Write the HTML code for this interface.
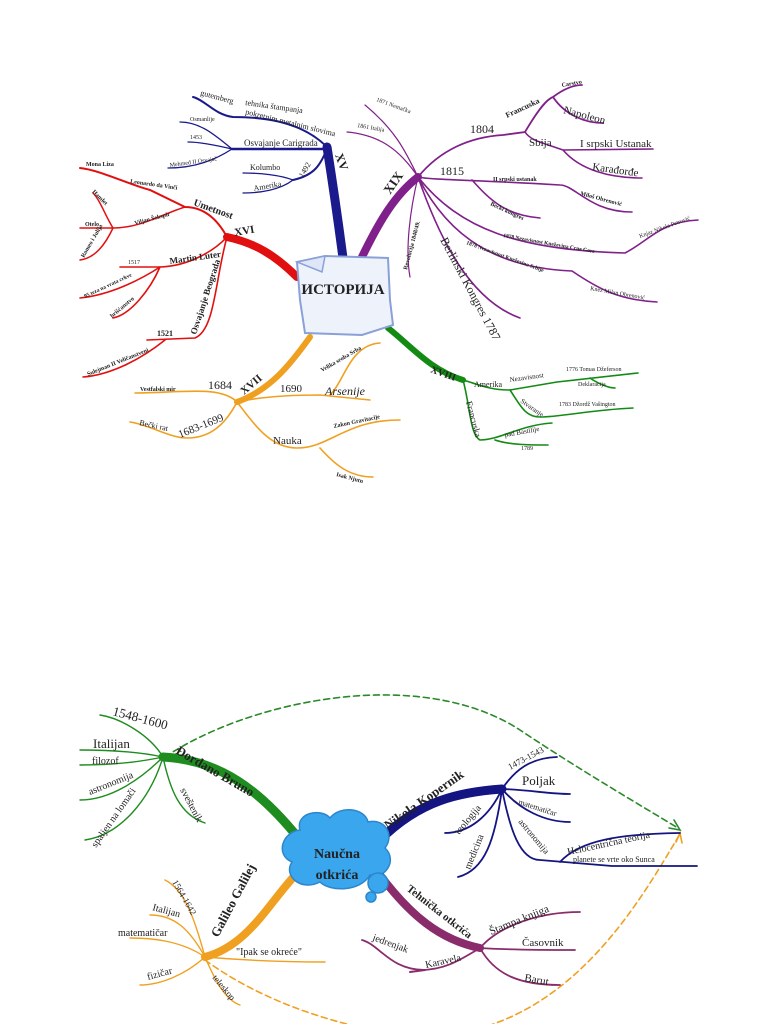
<!DOCTYPE html>
<html><head><meta charset="utf-8"><style>
html,body{margin:0;padding:0;background:#fff;}
svg{display:block;font-family:"Liberation Serif",serif;}
text{fill:#222;}
.b{font-weight:bold;}
</style></head><body>
<svg width="768" height="1024" viewBox="0 0 768 1024" xmlns="http://www.w3.org/2000/svg">
<g fill="none" stroke-linecap="round">
<!-- BLUE XV -->
<g stroke="#1a1a8c">
<path d="M343 258 C338 220 333 185 327 147" stroke-width="9"/>
<path d="M327 147 C300 120 260 117 233 117 C215 115 205 100 193 97" stroke-width="2"/>
<path d="M327 149 L232 149" stroke-width="2.5"/>
<path d="M232 149 C215 135 200 122 180 122 M232 149 C215 145 200 142 188 142 M232 149 C215 160 195 168 168 168" stroke-width="1.3"/>
<path d="M327 149 C320 165 315 175 293 180" stroke-width="2"/>
<path d="M293 180 C280 175 260 173 243 173 M293 180 C280 190 260 193 243 193" stroke-width="1.3"/>
</g>
<!-- RED XVI -->
<g stroke="#e01010">
<path d="M297 277 C275 255 255 243 227 237" stroke-width="8"/>
<path d="M227 237 C215 215 200 207 185 207 L150 190 C130 185 100 170 80 168" stroke-width="2"/>
<path d="M185 207 C160 215 140 228 113 228 L80 228 M113 228 C105 215 100 200 93 193 M113 228 C105 245 95 258 80 260" stroke-width="1.5"/>
<path d="M227 237 C215 250 190 266 160 267 L120 267 M160 267 C140 280 110 295 80 298 M160 267 C150 290 130 315 113 318" stroke-width="1.6"/>
<path d="M227 237 C215 280 215 330 195 338 L147 340 M165 340 C140 360 110 375 83 377" stroke-width="1.6"/>
</g>
<!-- ORANGE XVII -->
<g stroke="#f0a020">
<path d="M310 337 C290 365 270 390 237 402" stroke-width="6"/>
<path d="M237 402 C220 385 180 393 135 393" stroke-width="1.6"/>
<path d="M237 402 C260 397 290 395 320 395 L370 400 M330 395 C345 380 350 345 380 343" stroke-width="1.6"/>
<path d="M237 402 C225 425 210 438 187 438 C170 438 150 425 130 422" stroke-width="1.6"/>
<path d="M237 402 C255 425 270 448 297 448 C330 448 345 420 400 420 M320 448 C335 465 350 477 373 477" stroke-width="1.6"/>
</g>
<!-- GREEN XVIII -->
<g stroke="#138a13">
<path d="M388 328 C410 345 430 370 463 380" stroke-width="6"/>
<path d="M463 380 C480 385 490 390 510 390 L557 382 L638 373 M590 378 C600 385 610 388 615 388" stroke-width="1.6"/>
<path d="M510 390 C520 405 525 417 540 417 C560 417 590 410 633 408" stroke-width="1.6"/>
<path d="M463 380 C470 405 470 435 480 440 C500 440 520 425 552 423 M495 440 C510 445 530 445 548 445" stroke-width="1.6"/>
</g>
<!-- PURPLE XIX -->
<g stroke="#80208a">
<path d="M362 257 C380 220 395 195 418 177" stroke-width="8"/>
<path d="M418 177 C405 150 395 130 365 105 M418 177 C400 150 380 135 347 132" stroke-width="1.2"/>
<path d="M418 177 C440 150 470 137 503 135 L525 132 C535 115 545 100 553 97 M553 97 C565 88 575 85 582 85 M553 97 C565 115 585 123 603 123" stroke-width="1.8"/>
<path d="M525 132 C530 140 540 142 563 150 L653 149 M563 150 C580 170 610 178 642 178" stroke-width="1.6"/>
<path d="M418 177 C430 180 480 180 560 185 C575 185 590 212 632 212 M472 180 C490 200 505 215 540 218" stroke-width="1.6"/>
<path d="M418 177 C460 230 520 250 625 253 C650 240 660 222 698 220" stroke-width="1.6"/>
<path d="M418 177 C450 240 500 268 572 271 C600 290 620 300 657 302" stroke-width="1.6"/>
<path d="M418 177 C440 240 470 300 520 318" stroke-width="1.6"/>
<path d="M418 177 C410 210 405 250 410 277" stroke-width="1.2"/>
</g>
</g>
<!-- center box -->
<path d="M297 262 L325 256 L388 258 L390 300 L393 325 L362 335 L305 333 L300 300 Z" fill="#eef2fb" stroke="#8aa0d8" stroke-width="2"/>
<path d="M297 262 L325 256 L322 272 Z" fill="#dfe6f7" stroke="#8aa0d8" stroke-width="1.5"/>
<text x="343" y="294" text-anchor="middle" class="b" font-size="15">ИСТОРИЈА</text>

<g font-size="8">
<text x="200" y="95" transform="rotate(15 200 95)">gutemberg</text>
<text x="245" y="105" transform="rotate(8 245 105)">tehnika štampanja</text>
<text x="245" y="114" transform="rotate(14 245 114)">pokretnim metalnim slovima</text>
<text x="190" y="121" font-size="6">Osmanlije</text>
<text x="190" y="139" font-size="6">1453</text>
<text x="170" y="167" font-size="6" transform="rotate(-8 170 167)">Mehmed II Osvajač</text>
<text x="244" y="146" font-size="9">Osvajanje Carigrada</text>
<text x="250" y="170">Kolumbo</text>
<text x="254" y="191" transform="rotate(-10 254 191)">Amerika</text>
<text x="303" y="178" transform="rotate(-60 303 178)">1492</text>
<text x="335" y="155" class="b" font-size="12" transform="rotate(70 335 155)">XV</text>

<text x="86" y="166" font-size="6" class="b">Mona Liza</text>
<text x="130" y="183" font-size="6" class="b" transform="rotate(8 130 183)">Leonardo da Vinči</text>
<text x="92" y="192" font-size="6" class="b" transform="rotate(45 92 192)">Hamlet</text>
<text x="85" y="226" font-size="6" class="b">Otelo</text>
<text x="84" y="258" font-size="6" class="b" transform="rotate(-60 84 258)">Romeo i Julija</text>
<text x="135" y="225" font-size="6" class="b" transform="rotate(-15 135 225)">Viljan Šekspir</text>
<text x="193" y="205" font-size="10" class="b" transform="rotate(20 193 205)">Umetnost</text>
<text x="235" y="236" font-size="11" class="b" transform="rotate(-10 235 236)">XVI</text>
<text x="170" y="264" font-size="9" class="b" transform="rotate(-8 170 264)">Martin Luter</text>
<text x="128" y="264" font-size="6">1517</text>
<text x="85" y="298" font-size="5.5" class="b" transform="rotate(-25 85 298)">95 teza na vrata crkve</text>
<text x="112" y="318" font-size="6" class="b" transform="rotate(-40 112 318)">hrišćanstvo</text>
<text x="196" y="335" font-size="9" class="b" transform="rotate(-72 196 335)">Osvajanje Beograda</text>
<text x="157" y="336" font-size="8" class="b">1521</text>
<text x="88" y="376" font-size="6" class="b" transform="rotate(-22 88 376)">Sulejman II Veličanstveni</text>

<text x="140" y="391" font-size="6" class="b">Vestfalski mir</text>
<text x="208" y="389" font-size="12">1684</text>
<text x="244" y="395" font-size="11" class="b" transform="rotate(-40 244 395)">XVII</text>
<text x="280" y="392" font-size="11">1690</text>
<text x="322" y="372" font-size="6" class="b" transform="rotate(-30 322 372)">Velika seoba Srba</text>
<text x="325" y="395" font-size="12" font-style="italic">Arsenije</text>
<text x="139" y="425" font-size="8" transform="rotate(12 139 425)">Bečki rat</text>
<text x="180" y="438" font-size="11" transform="rotate(-22 180 438)">1683-1699</text>
<text x="273" y="444" font-size="11">Nauka</text>
<text x="334" y="428" font-size="6" class="b" transform="rotate(-12 334 428)">Zakon Gravitacije</text>
<text x="336" y="476" font-size="6" class="b" transform="rotate(15 336 476)">Isak Njutn</text>

<text x="430" y="372" font-size="10" class="b" transform="rotate(20 430 372)">XVIII</text>
<text x="474" y="387" font-size="8">Amerika</text>
<text x="510" y="382" font-size="7" transform="rotate(-8 510 382)">Nezavisnost</text>
<text x="566" y="371" font-size="6">1776 Tomas Džeferson</text>
<text x="578" y="386" font-size="6">Deklaracija</text>
<text x="520" y="402" font-size="7" transform="rotate(35 520 402)">Stvaranje</text>
<text x="559" y="406" font-size="6">1783 Džordž Vašington</text>
<text x="466" y="402" font-size="9" transform="rotate(75 466 402)">Francuska</text>
<text x="505" y="437" font-size="7" transform="rotate(-10 505 437)">pad Bastilije</text>
<text x="521" y="450" font-size="6">1789</text>

<text x="376" y="101" font-size="6" transform="rotate(20 376 101)">1871 Nemačka</text>
<text x="357" y="127" font-size="6" transform="rotate(10 357 127)">1861 Italija</text>
<text x="390" y="195" font-size="13" class="b" transform="rotate(-55 390 195)">XIX</text>
<text x="407" y="270" font-size="6" class="b" transform="rotate(-75 407 270)">Revolucija 1848/49.</text>
<text x="470" y="133" font-size="12">1804</text>
<text x="507" y="118" font-size="8" class="b" transform="rotate(-25 507 118)">Francuska</text>
<text x="562" y="87" font-size="6" class="b" transform="rotate(-10 562 87)">Carstvo</text>
<text x="563" y="113" font-size="11" transform="rotate(15 563 113)">Napoleon</text>
<text x="529" y="146" font-size="11">Sbija</text>
<text x="580" y="147" font-size="11">I srpski Ustanak</text>
<text x="592" y="170" font-size="11" transform="rotate(8 592 170)">Karađorđe</text>
<text x="440" y="175" font-size="12">1815</text>
<text x="493" y="181" font-size="6" class="b">II srpski ustanak</text>
<text x="580" y="195" font-size="6" class="b" transform="rotate(15 580 195)">Miloš Obrenović</text>
<text x="490" y="205" font-size="6" class="b" transform="rotate(25 490 205)">Bečki kongres</text>
<text x="503" y="237" font-size="5.5" class="b" transform="rotate(10 503 237)">1878 Nezavisnost Kneževina Crne Gore</text>
<text x="466" y="244" font-size="5.5" class="b" transform="rotate(20 466 244)">1878 Nezavisnost Kneževina Srbije</text>
<text x="640" y="238" font-size="6" transform="rotate(-20 640 238)">Knjaz Nikola Petrović</text>
<text x="590" y="290" font-size="6" transform="rotate(10 590 290)">Knez Milan Obrenović</text>
<text x="440" y="240" font-size="12" transform="rotate(62 440 240)">Berlinski Kongres 1787</text>
</g>

<!-- BOTTOM -->
<g fill="none" stroke-linecap="round">
<path d="M165 757 C250 700 420 665 520 730 C580 770 640 805 678 828" stroke="#2a8a2a" stroke-width="1.6" stroke-dasharray="6 4"/>
<path d="M669 828 L680 830 L674 820" stroke="#2a8a2a" stroke-width="1.6"/>
<path d="M205 960 C260 1000 330 1024 400 1035 C560 1050 640 900 680 834" stroke="#f0a020" stroke-width="1.6" stroke-dasharray="6 4"/>
<path d="M676 842 L680 833 L682 843" stroke="#f0a020" stroke-width="1.6"/>
<g stroke="#1e8c1e">
<path d="M163 757 C220 760 260 790 300 840" stroke-width="9"/>
<path d="M163 757 C150 735 120 718 100 715 M163 757 C140 752 110 750 80 750 M163 757 C140 762 110 765 80 765 M163 757 C140 780 110 800 80 800 M163 757 C150 800 120 835 85 840 M163 757 C170 790 180 815 205 823" stroke-width="1.4"/>
</g>
<g stroke="#141482">
<path d="M380 840 C420 800 460 792 502 789" stroke-width="9"/>
<path d="M502 789 C515 770 530 758 557 757 M502 789 C530 790 550 794 570 794 M502 789 C520 810 545 822 570 822 M502 789 C510 830 520 860 540 860 L612 866 L697 866 M560 862 C580 840 620 834 680 833 M502 789 C490 815 470 833 445 833 M502 789 C495 840 485 870 458 877" stroke-width="1.8"/>
</g>
<g stroke="#f0a020">
<path d="M300 870 C270 900 250 945 205 957" stroke-width="8"/>
<path d="M205 957 C195 920 185 890 165 880 M205 957 C190 930 175 915 150 915 M205 957 C180 940 150 938 130 938 M205 957 C185 975 160 985 140 985 M205 957 C215 980 225 1000 240 1005 M205 957 C240 960 280 962 325 962" stroke-width="1.4"/>
</g>
<g stroke="#8a2c6c">
<path d="M380 875 C410 915 440 940 480 948" stroke-width="8"/>
<path d="M480 948 C460 960 445 970 420 970 L425 970 C390 970 380 945 362 940 M425 970 L420 970 M480 948 C500 925 540 912 580 912 M480 948 C510 950 545 950 575 950 M480 948 C495 975 520 985 560 985" stroke-width="1.8"/>
<path d="M425 970 L410 972" stroke-width="2"/>
</g>
</g>
<!-- cloud -->
<g fill="#3aa6ee" stroke="#2d86cc" stroke-width="1.5">
<path d="M300 830 C295 812 322 808 330 818 C340 805 365 808 368 822 C385 818 395 835 385 848 C398 860 385 880 370 875 C360 892 330 892 320 882 C300 892 283 875 292 862 C275 855 282 832 300 830 Z"/>
<circle cx="378" cy="883" r="10"/>
<circle cx="371" cy="897" r="5"/>
</g>
<text x="337" y="858" text-anchor="middle" class="b" font-size="14">Naučna</text>
<text x="337" y="879" text-anchor="middle" class="b" font-size="14">otkrića</text>

<g>
<text x="112" y="715" font-size="13" transform="rotate(15 112 715)">1548-1600</text>
<text x="93" y="748" font-size="13">Italijan</text>
<text x="92" y="764" font-size="10">filozof</text>
<text x="90" y="795" font-size="10" transform="rotate(-22 90 795)">astronomija</text>
<text x="96" y="848" font-size="10" transform="rotate(-55 96 848)">spaljen na lomači</text>
<text x="180" y="790" font-size="10" transform="rotate(62 180 790)">sveštenik</text>
<text x="175" y="753" font-size="13" class="b" transform="rotate(30 175 753)">Đordano Bruno</text>
<text x="388" y="830" font-size="13" class="b" transform="rotate(-35 388 830)">Nikola Kopernik</text>
<text x="510" y="770" font-size="9" transform="rotate(-28 510 770)">1473-1543</text>
<text x="522" y="785" font-size="13">Poljak</text>
<text x="518" y="804" font-size="8" transform="rotate(18 518 804)">matematičar</text>
<text x="518" y="822" font-size="9" transform="rotate(50 518 822)">astronomija</text>
<text x="459" y="835" font-size="10" transform="rotate(-50 459 835)">teologija</text>
<text x="470" y="870" font-size="10" transform="rotate(-68 470 870)">medicina</text>
<text x="568" y="855" font-size="10" transform="rotate(-12 568 855)">Helocentrična teorija</text>
<text x="573" y="862" font-size="8">planete se vrte oko Sunca</text>
<text x="218" y="938" font-size="13" class="b" transform="rotate(-62 218 938)">Galileo Galilej</text>
<text x="172" y="882" font-size="9" transform="rotate(60 172 882)">1564-1642</text>
<text x="152" y="910" font-size="10" transform="rotate(15 152 910)">Italijan</text>
<text x="118" y="936" font-size="10">matematičar</text>
<text x="148" y="980" font-size="10" transform="rotate(-15 148 980)">fizičar</text>
<text x="212" y="978" font-size="9" transform="rotate(50 212 978)">teleskop</text>
<text x="236" y="955" font-size="10">"Ipak se okreće"</text>
<text x="406" y="890" font-size="11" class="b" transform="rotate(38 406 890)">Tehnička otkrića</text>
<text x="491" y="935" font-size="11" transform="rotate(-22 491 935)">Štampa knjiga</text>
<text x="522" y="946" font-size="11">Časovnik</text>
<text x="524" y="981" font-size="11" transform="rotate(10 524 981)">Barut</text>
<text x="426" y="968" font-size="10" transform="rotate(-12 426 968)">Karavela</text>
<text x="372" y="940" font-size="10" transform="rotate(20 372 940)">jedrenjak</text>
</g>
</svg>
</body></html>
